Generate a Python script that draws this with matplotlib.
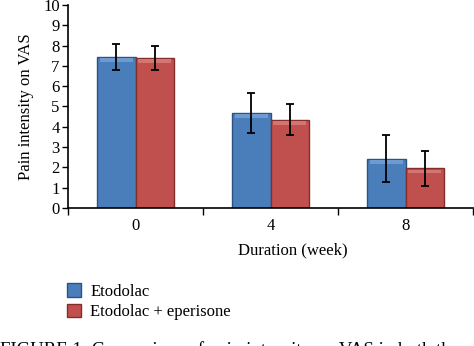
import numpy as np
import matplotlib.pyplot as plt
from matplotlib.patches import Patch

plt.rcParams['font.family'] = ['Liberation Serif', 'DejaVu Serif']

weeks = ["0", "4", "8"]
etodolac = [7.45, 4.68, 2.42]
etodolac_err = [0.63, 0.97, 1.15]
combo = [7.40, 4.35, 1.95]
combo_err = [0.60, 0.77, 0.85]
series_names = ["Etodolac", "Etodolac + eperisone"]

blue = "#4a7ebb"
blue_edge = "#2c5282"
blue_top = "#6f9ad0"
red = "#c0504d"
red_edge = "#842e2c"
red_top = "#d57572"

fig = plt.figure(figsize=(4.74, 3.46), dpi=100)
ax = fig.add_axes([0.1435, 0.399, 0.8545, 0.5867])

x = np.arange(len(weeks))
w = 0.285
# bars with a light band at the top to mimic the bevelled look
for xs, vals, fc, ec, tc in [(x - w / 2, etodolac, blue, blue_edge, blue_top),
                             (x + w / 2, combo, red, red_edge, red_top)]:
    vals = np.array(vals)
    ax.bar(xs, vals, w, color=fc, edgecolor=ec, linewidth=1.0, zorder=2)
    ax.bar(xs, 0.18, w * 0.86, bottom=vals - 0.24, color=tc, linewidth=0, zorder=3)

ax.errorbar(x - w / 2, etodolac, yerr=etodolac_err, fmt="none", ecolor="black",
            elinewidth=1.3, capsize=3, capthick=1.3, zorder=4)
ax.errorbar(x + w / 2, combo, yerr=combo_err, fmt="none", ecolor="black",
            elinewidth=1.3, capsize=3, capthick=1.3, zorder=4)

ax.set_xlim(-0.5, 2.5)
ax.set_ylim(0, 10)
ax.set_yticks(range(0, 11))
ax.set_xticks([-0.5, 0.5, 1.5, 2.5])
ax.set_xticklabels([])
ax.set_xticks(x, minor=True)
ax.set_xticklabels(weeks, minor=True)
ax.tick_params(axis="x", which="major", direction="out", length=5, width=1)
ax.tick_params(axis="x", which="minor", length=0, pad=7, labelsize=12)
ax.tick_params(axis="y", direction="out", length=4, width=1, labelsize=12, pad=2)
for s in ["top", "right"]:
    ax.spines[s].set_visible(False)
for s in ["left", "bottom"]:
    ax.spines[s].set_linewidth(1.2)

ax.set_ylabel("Pain intensity on VAS", fontsize=12)
ax.yaxis.set_label_coords(-0.085, 0.5)
ax.set_xlabel("Duration (week)", fontsize=12)
ax.xaxis.set_label_coords(0.555, -0.17)

handles = [Patch(facecolor=blue, edgecolor=blue_edge),
           Patch(facecolor=red, edgecolor=red_edge)]
fig.legend(handles, series_names, loc="upper left", bbox_to_anchor=(0.127, 0.2),
           frameon=False, fontsize=12, handlelength=0.85, handleheight=0.85,
           handletextpad=0.55, labelspacing=0.25, borderaxespad=0)

fig.text(0.0, 0.015, "FIGURE 1: Comparison of pain intensity on VAS in both the",
         fontsize=13.5, va="top", ha="left")

fig.savefig("out.png", dpi=100)
